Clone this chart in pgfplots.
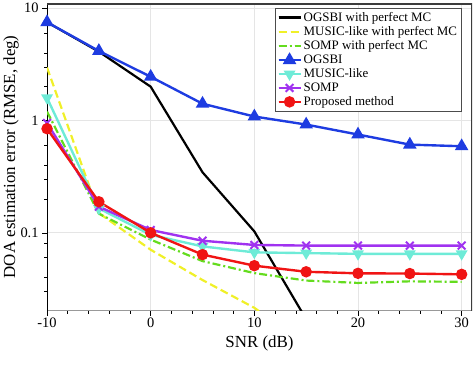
\documentclass[border=0pt]{standalone}
\usepackage{pgfplots}
\pgfplotsset{compat=1.18}
\usepackage{fontspec}
\setmainfont{Liberation Serif}
\definecolor{cblue}{RGB}{30,60,225}
\definecolor{ccyan}{RGB}{110,235,215}
\definecolor{cpurp}{RGB}{160,50,240}
\definecolor{cred}{RGB}{240,20,20}
\definecolor{cyel}{RGB}{240,240,40}
\definecolor{cgreen}{RGB}{100,220,30}
\definecolor{frame}{RGB}{60,60,60}
\begin{document}
\begin{tikzpicture}
\begin{axis}[name=ax,
  scale only axis, width=427bp, height=309bp,
  ymode=log, xmin=-10, xmax=31, ymin=0.0203, ymax=11.1,
  axis x line*=bottom, axis y line*=left,
  x axis line style={color=gray!80, line width=1pt, -},
  y axis line style={color=black, line width=1pt, -},
  xtick={-10,0,10,20,30}, minor xtick={-8,-6,-4,-2,2,4,6,8,12,14,16,18,22,24,26,28},
  ytick={0.1,1,10}, yticklabels={0.1,1,10},
  minor ytick={0.03,0.04,0.06,0.08,0.2,0.3,0.4,0.6,0.8,2,3,4,6,8},
  tick align=outside, major tick length=5bp, minor tick length=3bp,
  tick style={black, line width=0.6pt},
  grid=major, major grid style={gray!20, line width=0.8pt},
  /pgf/number format/assume math mode=true,
  ticklabel style={font=\fontsize{14.5bp}{16bp}\selectfont},
  xticklabel style={yshift=1bp},
  xlabel={SNR (dB)}, ylabel={DOA estimation error (RMSE, deg)},
  label style={font=\fontsize{17bp}{19bp}\selectfont},
  xlabel style={yshift=-1bp},
  ylabel style={yshift=-5bp},
  clip=true,
  legend style={at={(0.975,0.984)}, anchor=north east, draw=black!70, line width=0.6pt,
    font=\fontsize{13bp}{14.5bp}\selectfont, row sep=-0.3bp, inner sep=2bp,
    cells={anchor=west}},
  legend image code/.code={\draw[#1] (0bp,0bp) -- (22bp,0bp); \draw[#1,mark repeat=2,mark phase=2] plot coordinates {(0bp,0bp) (11bp,0bp) (22bp,0bp)};},
]
\addplot[black, line width=2.2bp, mark=none] coordinates {(-10,7.5) (-5,4.1) (0,2.0) (5,0.346) (10,0.103) (15,0.017) (20,0.005) (25,0.004) (30,0.004)};
\addlegendentry{OGSBI with perfect MC}
\addplot[cyel, line width=2.2bp, dash pattern=on 8bp off 4bp, mark=none] coordinates {(-10,2.96) (-5,0.15) (0,0.0707) (5,0.038) (10,0.0215) (15,0.01) (20,0.006) (25,0.005) (30,0.005)};
\addlegendentry{MUSIC-like with perfect MC}
\addplot[cgreen, line width=2.2bp, dash pattern=on 8bp off 3bp on 2bp off 3bp, mark=none] coordinates {(-10,1.2) (-5,0.148) (0,0.087) (5,0.056) (10,0.0438) (15,0.0376) (20,0.0358) (25,0.037) (30,0.0366)};
\addlegendentry{SOMP with perfect MC}
\addplot[cblue, line width=2.4bp, mark=triangle*, mark size=5.5bp, mark options={solid}] coordinates {(-10,7.5) (-5,4.16) (0,2.45) (5,1.41) (10,1.085) (15,0.92) (20,0.75) (25,0.61) (30,0.59)};
\addlegendentry{OGSBI}
\addplot[ccyan, line width=2.4bp, mark=triangle*, mark size=4.5bp, mark options={solid, rotate=180}] coordinates {(-10,1.59) (-5,0.165) (0,0.096) (5,0.0757) (10,0.067) (15,0.066) (20,0.065) (25,0.065) (30,0.065)};
\addlegendentry{MUSIC-like}
\addplot[cpurp, line width=2.4bp, mark=x, mark size=5.5bp, mark options={solid, line width=2bp}] coordinates {(-10,0.95) (-5,0.171) (0,0.106) (5,0.085) (10,0.078) (15,0.077) (20,0.077) (25,0.077) (30,0.077)};
\addlegendentry{SOMP}
\addplot[cred, line width=2.4bp, mark=*, mark size=4.5bp, mark options={solid}] coordinates {(-10,0.845) (-5,0.189) (0,0.1) (5,0.064) (10,0.051) (15,0.045) (20,0.0436) (25,0.0434) (30,0.0427)};
\addlegendentry{Proposed method}
\draw[frame, line width=3bp] (rel axis cs:0,1) -- (rel axis cs:1,1) -- (rel axis cs:1,0);
\end{axis}
\path ([xshift=-45bp,yshift=-54bp]ax.south west) rectangle ([xshift=2bp,yshift=2bp]ax.north east);
\end{tikzpicture}
\end{document}
